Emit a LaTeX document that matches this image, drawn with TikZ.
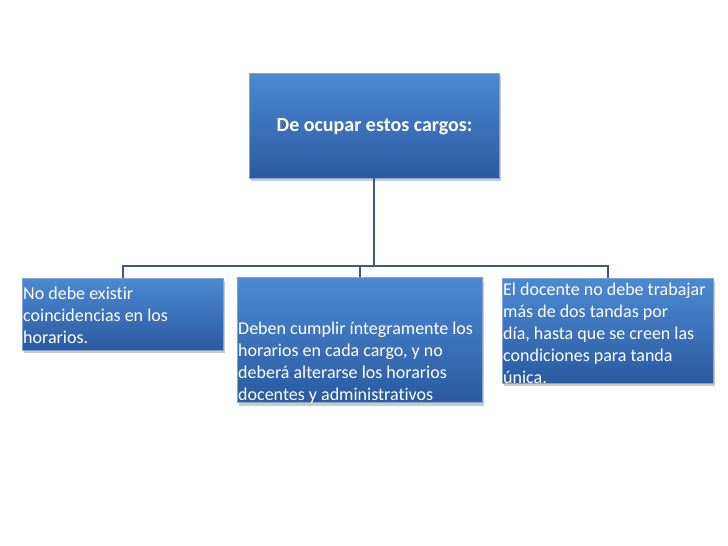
\documentclass[tikz,border=0pt]{standalone}
\usepackage{fontspec}
\setmainfont{Carlito}[Ligatures={NoCommon,NoRare,NoContextual}]
\usetikzlibrary{shadows}
\definecolor{boxtop}{RGB}{76,138,212}
\definecolor{boxbot}{RGB}{42,90,160}
\definecolor{boxedge}{RGB}{130,165,210}
\definecolor{conncol}{RGB}{62,92,122}
\tikzset{
  box/.style={rectangle, top color=boxtop, bottom color=boxbot, draw=boxedge, line width=0.5pt,
    drop shadow={shadow xshift=2pt, shadow yshift=-3pt, opacity=0.35, fill=black!60}, inner sep=0pt},
  txt/.style={text=white, font=\fontsize{18pt}{22pt}\selectfont, align=left, inner sep=0pt},
  conn/.style={draw=conncol, line width=2pt}
}
\begin{document}
\begin{tikzpicture}[x=1pt,y=-1pt]
\useasboundingbox (0,0) rectangle (728,546);
% boxes
\node[box, minimum width=250pt, minimum height=105pt] (top) at (374,125.5) {};
\node[box, minimum width=201pt, minimum height=72pt] (left) at (122.5,314) {};
\node[box, minimum width=245pt, minimum height=125pt] (mid) at (359.5,340) {};
\node[box, minimum width=211pt, minimum height=105pt] (right) at (607.5,330.5) {};
% texts
\node[txt, font=\fontsize{20pt}{24pt}\selectfont\bfseries] (toptxt) at (374.5,127) {De ocupar estos cargos:};
\node[txt, anchor=west] (lefttxt) at (23,315) {No debe existir\\coincidencias en los\\horarios.};
\node[txt, anchor=west] (midtxt) at (238,362.5) {Deben cumplir íntegramente los\\horarios en cada cargo, y no\\deberá alterarse los horarios\\docentes y administrativos};
\node[txt, anchor=west] (righttxt) at (503,333) {El docente no debe trabajar\\más de dos tandas por\\día, hasta que se creen las\\condiciones para tanda\\única.};
% connectors
\coordinate (j) at (374,266);
\draw[conn] (top.south) -- (j);
\draw[conn] (left.north) -- ++(0,-12) -| (right.north);
\draw[conn] (mid.north) -- (mid.north |- j);
\end{tikzpicture}
\end{document}
